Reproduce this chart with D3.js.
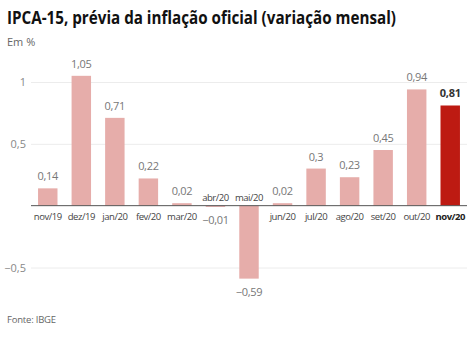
<!DOCTYPE html>
<html>
<head>
<meta charset="utf-8">
<script src="https://cdn.jsdelivr.net/npm/d3@7"></script>
<style>
  html, body { margin: 0; padding: 0; background: #fff; }
  svg { display: block; font-family: "Open Sans", sans-serif; }
</style>
</head>
<body>
<svg id="chart" width="474" height="338"></svg>
<script>
// IPCA-15 monthly variation, %
const months = ["nov/19","dez/19","jan/20","fev/20","mar/20","abr/20","mai/20","jun/20","jul/20","ago/20","set/20","out/20","nov/20"];
const values = [0.14, 1.05, 0.71, 0.22, 0.02, -0.01, -0.59, 0.02, 0.3, 0.23, 0.45, 0.94, 0.81];
const yTicks = [-0.5, 0.5, 1];
const highlight = "nov/20";

const svg = d3.select("#chart");
const fmt = v => (v < 0 ? "\u2212" : "") + String(Math.abs(v)).replace(".", ",");

svg.append("text").attr("x", 7).attr("y", 24)
  .attr("font-size", 17).attr("font-weight", 700).attr("fill", "#111")
  .attr("textLength", 389).attr("lengthAdjust", "spacingAndGlyphs")
  .text("IPCA-15, prévia da inflação oficial (variação mensal)");
svg.append("text").attr("x", 7).attr("y", 46)
  .attr("font-size", 11).attr("fill", "#666").text("Em %");
svg.append("text").attr("x", 7).attr("y", 323)
  .attr("font-size", 9.5).attr("fill", "#666").attr("letter-spacing", -0.2).text("Fonte: IBGE");

const x = d3.scaleBand().domain(months).range([31, 467]).paddingInner(0.42).paddingOuter(0.21);
const y = d3.scaleLinear().domain([-0.5, 1]).range([267.5, 82]);

// gridlines + tick labels
const yAxis = d3.axisLeft(y).tickValues(yTicks).tickSize(-(467 - 31)).tickFormat(fmt);
const ga = svg.append("g").attr("transform", "translate(31,0)").call(yAxis);
ga.select(".domain").remove();
ga.selectAll(".tick line").attr("stroke", "#ececec");
ga.selectAll(".tick text").attr("x", -5).attr("fill", "#888")
  .attr("font-size", 11).attr("font-family", "Open Sans, sans-serif");

// bars
svg.append("g").selectAll("rect").data(months).join("rect")
  .attr("x", d => x(d))
  .attr("width", x.bandwidth())
  .attr("y", (d, i) => y(Math.max(0, values[i])))
  .attr("height", (d, i) => Math.abs(y(values[i]) - y(0)))
  .attr("fill", d => d === highlight ? "#bd1a12" : "#e6adaa");

// zero line
svg.append("line").attr("x1", 31).attr("x2", 467).attr("y1", y(0)).attr("y2", y(0))
  .attr("stroke", "#555").attr("stroke-width", 1);

// value labels
svg.append("g").selectAll("text").data(months).join("text")
  .attr("x", d => x(d) + x.bandwidth() / 2)
  .attr("y", (d, i) => values[i] >= 0 ? y(values[i]) - 8 : y(values[i]) + 17)
  .attr("text-anchor", "middle").attr("font-size", 11)
  .attr("fill", d => d === highlight ? "#333" : "#777")
  .attr("font-weight", d => d === highlight ? 700 : 400)
  .attr("letter-spacing", -0.3)
  .text((d, i) => fmt(values[i]));

// category labels
svg.append("g").selectAll("text").data(months).join("text")
  .attr("x", d => x(d) + x.bandwidth() / 2)
  .attr("y", (d, i) => values[i] >= 0 ? y(0) + 14 : y(0) - 5)
  .attr("text-anchor", "middle").attr("font-size", 9.5)
  .attr("fill", d => d === highlight ? "#222" : "#444")
  .attr("font-weight", d => d === highlight ? 700 : 400)
  .attr("letter-spacing", -0.45)
  .text(d => d);
</script>
</body>
</html>
